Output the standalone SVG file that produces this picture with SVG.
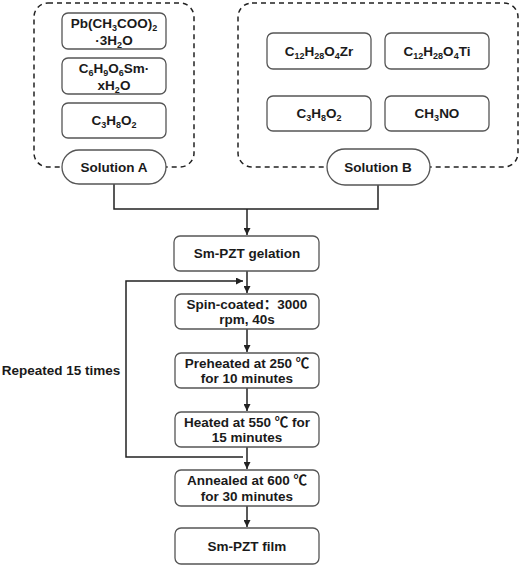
<svg xmlns="http://www.w3.org/2000/svg" width="520" height="567" viewBox="0 0 520 567">
<defs>
<marker id="ah" viewBox="0 0 8 8" refX="8" refY="4" markerWidth="7" markerHeight="7" markerUnits="userSpaceOnUse" orient="auto">
<path d="M0,0 L8,4 L0,8 z" fill="#222"/>
</marker>
</defs>
<style>
.t{font-family:"Liberation Sans","Noto Sans CJK SC",Arial,sans-serif;font-weight:bold;font-size:13.5px;fill:#1a1a1a;text-anchor:middle}
.b{fill:#fff;stroke:#555;stroke-width:1.3}
.d{fill:none;stroke:#222;stroke-width:1.5;stroke-dasharray:5,4}
.c{fill:none;stroke:#222;stroke-width:1.5}
.s{font-size:9px}
</style>
<rect width="520" height="567" fill="#fff"/>
<g id="groupA">
<rect class="d" x="34" y="3" width="160" height="164" rx="14"/>
</g>
<g id="groupB">
<rect class="d" x="238" y="3" width="280" height="164" rx="14"/>
</g>
<g id="connectors">
<path class="c" d="M114,184 V209 H378 V185"/>
<path class="c" d="M247,209 V235" marker-end="url(#ah)"/>
<path class="c" d="M247,271 V293" marker-end="url(#ah)"/>
<path class="c" d="M247,329 V352" marker-end="url(#ah)"/>
<path class="c" d="M247,388 V411" marker-end="url(#ah)"/>
<path class="c" d="M247,447 V469" marker-end="url(#ah)"/>
<path class="c" d="M247,506 V527" marker-end="url(#ah)"/>
<path class="c" d="M243,457 H126 V281 H243" marker-end="url(#ah)"/>
</g>
<g id="pb">
<rect class="b" x="62" y="13" width="104" height="36" rx="6"/>
<text class="t" x="114" y="28">Pb(CH<tspan class="s" dy="2.5">3</tspan><tspan dy="-2.5">COO)</tspan><tspan class="s" dy="2.5">2</tspan></text>
<text class="t" x="114" y="45">·3H<tspan class="s" dy="2.5">2</tspan><tspan dy="-2.5">O</tspan></text>
</g>
<g id="sm">
<rect class="b" x="62" y="58" width="104" height="36" rx="6"/>
<text class="t" x="114" y="73">C<tspan class="s" dy="2.5">6</tspan><tspan dy="-2.5">H</tspan><tspan class="s" dy="2.5">9</tspan><tspan dy="-2.5">O</tspan><tspan class="s" dy="2.5">6</tspan><tspan dy="-2.5">Sm·</tspan></text>
<text class="t" x="114" y="90">xH<tspan class="s" dy="2.5">2</tspan><tspan dy="-2.5">O</tspan></text>
</g>
<g id="c3a">
<rect class="b" x="62" y="103" width="104" height="35" rx="6"/>
<text class="t" x="114" y="125">C<tspan class="s" dy="2.5">3</tspan><tspan dy="-2.5">H</tspan><tspan class="s" dy="2.5">8</tspan><tspan dy="-2.5">O</tspan><tspan class="s" dy="2.5">2</tspan></text>
</g>
<g id="solA">
<rect class="b" x="62" y="150" width="104" height="34" rx="17" stroke="#333"/>
<text class="t" x="114" y="172">Solution A</text>
</g>
<g id="zr">
<rect class="b" x="267" y="33" width="104" height="36" rx="6"/>
<text class="t" x="319" y="56">C<tspan class="s" dy="2.5">12</tspan><tspan dy="-2.5">H</tspan><tspan class="s" dy="2.5">28</tspan><tspan dy="-2.5">O</tspan><tspan class="s" dy="2.5">4</tspan><tspan dy="-2.5">Zr</tspan></text>
</g>
<g id="ti">
<rect class="b" x="385" y="33" width="104" height="36" rx="6"/>
<text class="t" x="437" y="56">C<tspan class="s" dy="2.5">12</tspan><tspan dy="-2.5">H</tspan><tspan class="s" dy="2.5">28</tspan><tspan dy="-2.5">O</tspan><tspan class="s" dy="2.5">4</tspan><tspan dy="-2.5">Ti</tspan></text>
</g>
<g id="c3b">
<rect class="b" x="267" y="96" width="104" height="35" rx="6"/>
<text class="t" x="319" y="118">C<tspan class="s" dy="2.5">3</tspan><tspan dy="-2.5">H</tspan><tspan class="s" dy="2.5">8</tspan><tspan dy="-2.5">O</tspan><tspan class="s" dy="2.5">2</tspan></text>
</g>
<g id="ch3no">
<rect class="b" x="385" y="96" width="104" height="35" rx="6"/>
<text class="t" x="437" y="118">CH<tspan class="s" dy="2.5">3</tspan><tspan dy="-2.5">NO</tspan></text>
</g>
<g id="solB">
<rect class="b" x="327" y="149" width="103" height="36" rx="18" stroke="#333"/>
<text class="t" x="378" y="172">Solution B</text>
</g>
<g id="gel">
<rect class="b" x="174" y="236" width="145" height="35" rx="6"/>
<text class="t" x="247" y="258">Sm-PZT gelation</text>
</g>
<g id="spin">
<rect class="b" x="175" y="294" width="144" height="35" rx="6"/>
<text class="t" x="247" y="309">Spin-coated：3000</text>
<text class="t" x="247" y="324">rpm, 40s</text>
</g>
<g id="pre">
<rect class="b" x="175" y="353" width="144" height="35" rx="6"/>
<text class="t" x="247" y="368">Preheated at 250 ℃</text>
<text class="t" x="247" y="383">for 10 minutes</text>
</g>
<g id="heat">
<rect class="b" x="175" y="412" width="144" height="35" rx="6"/>
<text class="t" x="247" y="427">Heated at 550 ℃ for</text>
<text class="t" x="247" y="442">15 minutes</text>
</g>
<g id="anneal">
<rect class="b" x="175" y="470" width="144" height="36" rx="6"/>
<text class="t" x="247" y="485">Annealed at 600 ℃</text>
<text class="t" x="247" y="501">for 30 minutes</text>
</g>
<g id="film">
<rect class="b" x="175" y="528" width="144" height="36" rx="6"/>
<text class="t" x="247" y="551">Sm-PZT film</text>
</g>
<g id="repeat">
<text class="t" x="61" y="375">Repeated 15 times</text>
</g>
</svg>
